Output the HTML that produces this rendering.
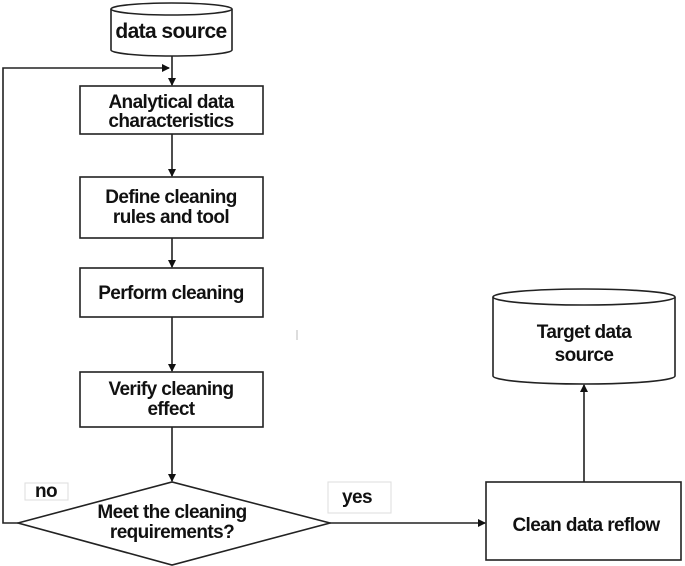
<!DOCTYPE html>
<html><head><meta charset="utf-8"><style>
html,body{margin:0;padding:0;background:#fff;}
svg{display:block;}
text{font-family:"Liberation Sans Narrow","Liberation Sans",sans-serif;font-weight:bold;font-size:19px;fill:#111;text-anchor:middle;letter-spacing:-0.6px;}
</style></head><body>
<svg width="685" height="566" viewBox="0 0 685 566" xmlns="http://www.w3.org/2000/svg">
<defs><marker id="a" markerWidth="8" markerHeight="8" refX="7" refY="4" orient="auto" markerUnits="userSpaceOnUse"><path d="M0,0 L8,4 L0,8 z" fill="#111"/></marker></defs>
<g fill="#fff" stroke="#222" stroke-width="1.6">
<path d="M111,9 L111,50 A60.5,6 0 0 0 232,50 L232,9"/>
<ellipse cx="171.5" cy="9" rx="60.5" ry="6"/>
<rect x="80" y="86" width="183" height="48"/>
<rect x="80" y="177" width="183" height="61"/>
<rect x="80" y="268" width="183" height="49"/>
<rect x="80" y="372" width="183" height="55"/>
<polygon points="18,523 172,482 330,523 172,565"/>
<rect x="486" y="482" width="195" height="78"/>
<path d="M493,297 L493,376 A91,8 0 0 0 675,376 L675,297"/>
<ellipse cx="584" cy="297" rx="91" ry="8"/>
</g>
<g stroke="#222" stroke-width="1.6" fill="none">
<line x1="172" y1="56" x2="172" y2="85" marker-end="url(#a)"/>
<polyline points="18,523 3,523 3,68 169,68" marker-end="url(#a)"/>
<line x1="172" y1="134" x2="172" y2="176" marker-end="url(#a)"/>
<line x1="172" y1="238" x2="172" y2="267" marker-end="url(#a)"/>
<line x1="172" y1="317" x2="172" y2="371" marker-end="url(#a)"/>
<line x1="172" y1="427" x2="172" y2="481" marker-end="url(#a)"/>
<line x1="330" y1="523" x2="485" y2="523" marker-end="url(#a)"/>
<line x1="584" y1="482" x2="584" y2="385" marker-end="url(#a)"/>
</g>
<g fill="none" stroke="#ddd" stroke-width="1">
<rect x="25" y="483" width="43" height="17"/>
<rect x="328" y="482" width="63" height="31"/>
</g>
<line x1="297" y1="330" x2="297" y2="340" stroke="#bbb" stroke-width="1"/>
<text x="171" y="38" style="font-size:21px">data source</text>
<text x="171" y="108">Analytical data</text>
<text x="171" y="127">characteristics</text>
<text x="171" y="203">Define cleaning</text>
<text x="171" y="223">rules and tool</text>
<text x="171" y="299">Perform cleaning</text>
<text x="171" y="395">Verify cleaning</text>
<text x="171" y="415">effect</text>
<text x="172" y="518">Meet the cleaning</text>
<text x="172" y="538">requirements?</text>
<text x="46" y="497">no</text>
<text x="357" y="503">yes</text>
<text x="586" y="531">Clean data reflow</text>
<text x="584" y="338">Target data</text>
<text x="584" y="361">source</text>
</svg>
</body></html>
